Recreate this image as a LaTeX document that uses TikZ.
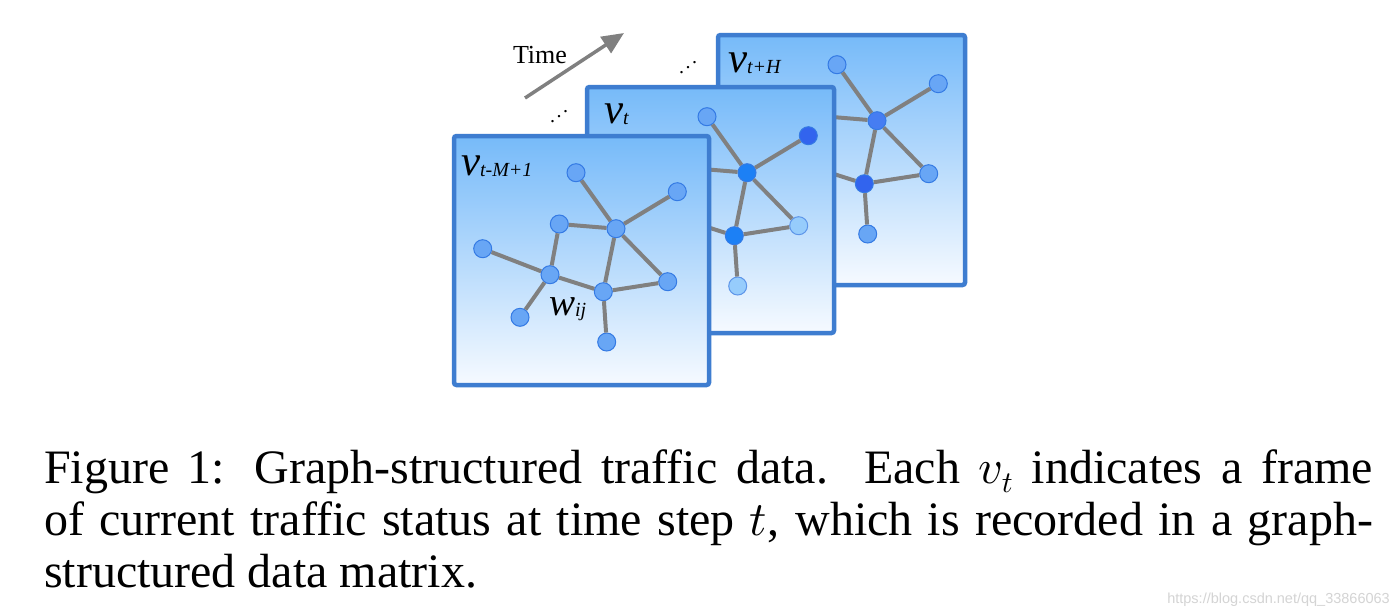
\documentclass[tikz,border=0pt]{standalone}
\usepackage{fontspec}
\setmainfont{Liberation Serif}
\newfontfamily\wmfont{Liberation Sans}
\DeclareFontShape{OML}{cmm}{m}{it}{<->cmmi10}{}
\DeclareMathSizes{48}{48}{30}{24}
\usetikzlibrary{arrows.meta}
\definecolor{frameline}{RGB}{62,125,208}
\definecolor{frametop}{RGB}{118,186,249}
\definecolor{framebot}{RGB}{246,250,255}
\definecolor{edgegray}{RGB}{128,128,128}
\definecolor{nodefill}{RGB}{104,166,245}
\definecolor{nodeline}{RGB}{52,122,228}
\definecolor{lightfill}{RGB}{150,204,252}
\definecolor{darkfill}{RGB}{50,100,238}
\definecolor{hubfill}{RGB}{28,128,245}
\definecolor{violfill}{RGB}{70,125,242}
\definecolor{wmgray}{RGB}{212,212,212}
\newcommand\dotsup{\hbox{.\kern1.5pt\raise5pt\hbox{.}\kern1.5pt\raise10pt\hbox{.}}}
\begin{document}
\begin{tikzpicture}[x=1pt,y=-1pt,
  frame/.style={draw=frameline, line width=4.5pt, rounded corners=2.5pt,
    top color=frametop, bottom color=framebot, inner sep=0pt, outer sep=0pt},
  gnode/.style={circle, draw=nodeline, line width=1pt, fill=nodefill,
    minimum size=18pt, inner sep=0pt},
  nlight/.style={fill=lightfill, draw=nodeline!80},
  ndark/.style={fill=darkfill},
  nhub/.style={fill=hubfill},
  nviol/.style={fill=violfill},
  gedge/.style={draw=edgegray, line width=4pt},
  lbl/.style={anchor=base west, inner sep=0pt, outer sep=0pt},
  vbig/.style={font=\fontsize{43}{43}\selectfont\itshape},
  capline/.style={anchor=base west, inner sep=0pt, outer sep=0pt,
    font=\fontsize{48}{52}\selectfont},
  timearrow/.style={draw=edgegray, line width=3.5pt,
    -{Triangle[length=22pt,width=19pt]}},
  dotsnode/.style={anchor=base west, inner sep=0pt, font=\fontsize{20}{20}\selectfont},
]
\useasboundingbox[fill=white] (0,0) rectangle (1400,614);

% ---------- time arrow ----------
\coordinate (tstart) at (525,98);
\coordinate (tend) at (624,33);
\draw[timearrow] (tstart) -- (tend);
\node[lbl, font=\fontsize{26}{26}\selectfont] (time) at (513,63) {Time};
\node[dotsnode] (dots1) at (550,122) {\dotsup};
\node[dotsnode] (dots2) at (679,73) {\dotsup};

% ---------- back frame (C) ----------
\node[frame, minimum width=247pt, minimum height=250pt] (frameC) at (841.5,160) {};
\node[lbl, vbig] (labC) at (728,72) {v\fontsize{20}{20}\selectfont\raisebox{-1pt}{t+H}};
\node[gnode] (C1) at (837,64.7) {};
\node[gnode] (C2) at (938.3,83.7) {};
\node[gnode] (C3) at (820.3,116) {};
\node[gnode, nviol] (C4) at (877,120.7) {};
\node[gnode] (C5) at (743.7,140.7) {};
\node[gnode] (C6) at (811,166.7) {};
\node[gnode] (C7) at (928.7,173.7) {};
\node[gnode, ndark] (C8) at (864.3,183.7) {};
\node[gnode] (C9) at (781,209.3) {};
\node[gnode] (C10) at (867.7,234) {};
\draw[gedge] (C1) -- (C4);
\draw[gedge] (C2) -- (C4);
\draw[gedge] (C3) -- (C4);
\draw[gedge] (C3) -- (C6);
\draw[gedge] (C5) -- (C6);
\draw[gedge] (C6) -- (C8);
\draw[gedge] (C4) -- (C8);
\draw[gedge] (C4) -- (C7);
\draw[gedge] (C7) -- (C8);
\draw[gedge] (C6) -- (C9);
\draw[gedge] (C8) -- (C10);

% ---------- middle frame (B) ----------
\node[frame, minimum width=247pt, minimum height=246pt] (frameB) at (710.5,210) {};
\node[lbl, vbig] (labB) at (604,123) {v\fontsize{20}{20}\selectfont\raisebox{-1pt}{t}};
\node[gnode] (B1) at (707,116.7) {};
\node[gnode, ndark] (B2) at (808.3,135.7) {};
\node[gnode] (B3) at (690.3,168) {};
\node[gnode, nhub] (B4) at (747,172.7) {};
\node[gnode] (B5) at (613.7,192.7) {};
\node[gnode] (B6) at (681,218.7) {};
\node[gnode, nlight] (B7) at (798.7,225.7) {};
\node[gnode, nhub] (B8) at (734.3,235.7) {};
\node[gnode] (B9) at (651,261.3) {};
\node[gnode, nlight] (B10) at (737.7,286) {};
\draw[gedge] (B1) -- (B4);
\draw[gedge] (B2) -- (B4);
\draw[gedge] (B3) -- (B4);
\draw[gedge] (B3) -- (B6);
\draw[gedge] (B5) -- (B6);
\draw[gedge] (B6) -- (B8);
\draw[gedge] (B4) -- (B8);
\draw[gedge] (B4) -- (B7);
\draw[gedge] (B7) -- (B8);
\draw[gedge] (B6) -- (B9);
\draw[gedge] (B8) -- (B10);

% ---------- front frame (A) ----------
\node[frame, minimum width=255pt, minimum height=249pt] (frameA) at (581.5,260.5) {};
\node[lbl, vbig] (labA) at (461,175) {v\fontsize{20}{20}\selectfont\raisebox{-1pt}{t-M+1}};
\node[gnode] (A1) at (576,172.7) {};
\node[gnode] (A2) at (677.3,191.7) {};
\node[gnode] (A3) at (559.3,224) {};
\node[gnode] (A4) at (616,228.7) {};
\node[gnode] (A5) at (482.7,248.7) {};
\node[gnode] (A6) at (550,274.7) {};
\node[gnode] (A7) at (667.7,281.7) {};
\node[gnode] (A8) at (603.3,291.7) {};
\node[gnode] (A9) at (520,317.3) {};
\node[gnode] (A10) at (606.7,342) {};
\draw[gedge] (A1) -- (A4);
\draw[gedge] (A2) -- (A4);
\draw[gedge] (A3) -- (A4);
\draw[gedge] (A3) -- (A6);
\draw[gedge] (A5) -- (A6);
\draw[gedge] (A6) -- (A8);
\draw[gedge] (A4) -- (A8);
\draw[gedge] (A4) -- (A7);
\draw[gedge] (A7) -- (A8);
\draw[gedge] (A6) -- (A9);
\draw[gedge] (A8) -- (A10);
\node[lbl, font=\fontsize{39}{39}\selectfont\itshape] (wlab) at (549,315) {w\fontsize{20}{20}\selectfont\raisebox{-1pt}{ij}};

% ---------- caption ----------
\node[capline] (cap1) at (44,483) {\makebox[1329pt][s]{Figure 1: Graph-structured traffic data.  Each $v_t$ indicates a frame}};
\node[capline] (cap2) at (44,535) {\makebox[1329pt][s]{of current traffic status at time step $t$, which is recorded in a graph-}};
\node[capline] (cap3) at (44,587) {structured data matrix.};

% ---------- watermark ----------
\node[anchor=base east, inner sep=0pt, text=wmgray, font=\wmfont\fontsize{14.5}{14.5}\selectfont] (wm) at (1390,603) {https://blog.csdn.net/qq\_33866063};
\end{tikzpicture}
\end{document}
